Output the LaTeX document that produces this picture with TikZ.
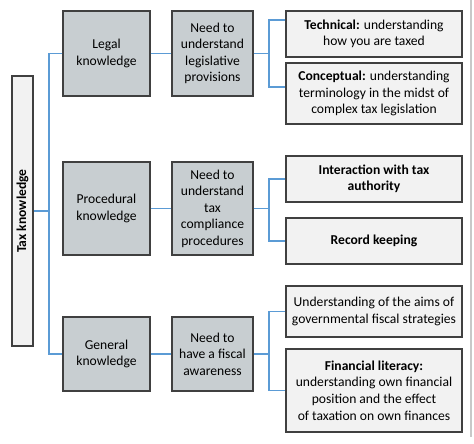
\documentclass[tikz,border=0pt]{standalone}
\usepackage{fontspec}
\setmainfont{Carlito}
\usepackage{tikz}

\definecolor{boxgrey}{RGB}{200,206,209}
\definecolor{boxlight}{RGB}{242,242,242}
\definecolor{boxedge}{RGB}{64,64,64}
\definecolor{linkblue}{RGB}{91,155,213}
\definecolor{framegrey}{RGB}{200,200,200}

\tikzset{
  base/.style={draw=boxedge, line width=0.9pt, inner sep=2pt, align=center,
    font=\fontsize{10.2}{12.4}\selectfont},
  mainbox/.style={base, fill=boxgrey, minimum width=65.25pt},
  needbox/.style={base, fill=boxgrey, minimum width=60.75pt},
  itembox/.style={base, fill=boxlight, minimum width=132pt},
  link/.style={draw=linkblue, line width=0.8pt}
}

\begin{document}
\begin{tikzpicture}[x=0.75pt,y=0.75pt,yscale=-1,xscale=1]
  \useasboundingbox (0,0) rectangle (474,443);

  % root
  \node [base, fill=boxlight, rotate=90, minimum width=202.5pt, minimum height=15.75pt,
    font=\fontsize{10.2}{12.4}\selectfont\bfseries] (tax) at (22.5,211) {Tax knowledge};

  % legal row
  \node [mainbox, minimum height=63.75pt] (legal) at (106.5,53.5) {Legal\\knowledge};
  \node [needbox, minimum height=63.75pt] (needlegal) at (212.5,53.5) {Need to\\understand\\legislative\\provisions};
  \node [itembox, minimum height=34.5pt] (technical) at (374,34) {\textbf{Technical:} understanding\\how you are taxed};
  \node [itembox, minimum height=45.75pt] (conceptual) at (374,93.5) {\textbf{Conceptual:} understanding\\terminology in the midst of\\complex tax legislation};

  % procedural row
  \node [mainbox, minimum height=69.75pt] (procedural) at (106.5,208.5) {Procedural\\knowledge};
  \node [needbox, minimum height=69.75pt] (needproc) at (212.5,208.5) {Need to\\understand\\tax\\compliance\\procedures};
  \node [itembox, minimum height=34.5pt, font=\fontsize{10.2}{12.4}\selectfont\bfseries] (interaction) at (374,179) {Interaction with tax\\authority};
  \node [itembox, minimum height=34.5pt, font=\fontsize{10.2}{12.4}\selectfont\bfseries] (record) at (374,241) {Record keeping};

  % general row
  \node [mainbox, minimum height=55.5pt] (general) at (106.5,354) {General\\knowledge};
  \node [needbox, minimum height=55.5pt] (needgen) at (212.5,354) {Need to\\have a fiscal\\awareness};
  \node [itembox, minimum height=38.25pt] (aims) at (374,311.5) {Understanding of the aims of\\governmental fiscal strategies};
  \node [itembox, minimum height=62.25pt] (literacy) at (374,390.5) {\textbf{Financial literacy:}\\understanding own financial\\position and the effect\\of taxation on own finances};

  % bus coordinates
  \coordinate (rootbus) at (49,211);
  \coordinate (legalbus) at (269,53.5);
  \coordinate (procbus) at (269,208.5);
  \coordinate (genbus) at (269,354);

  % connectors
  \draw [link] (tax.south) -- (rootbus);
  \draw [link] (legal.west) -| (rootbus) |- (general.west);
  \draw [link] (legal.east) -- (needlegal.west);
  \draw [link] (procedural.east) -- (needproc.west);
  \draw [link] (general.east) -- (needgen.west);

  \draw [link] (needlegal.east) -- (legalbus);
  \draw [link] ([yshift=-10.5pt]technical.west) -| (legalbus) |- ([yshift=-4.9pt]conceptual.west);
  \draw [link] (needproc.east) -- (procbus);
  \draw [link] (interaction.west) -| (procbus) |- (record.west);
  \draw [link] (needgen.east) -- (genbus);
  \draw [link] (aims.west) -| (genbus) |- (literacy.west);

  % page frame
  \draw [framegrey, line width=2pt] (471,0) -- (471,437);
\end{tikzpicture}
\end{document}
